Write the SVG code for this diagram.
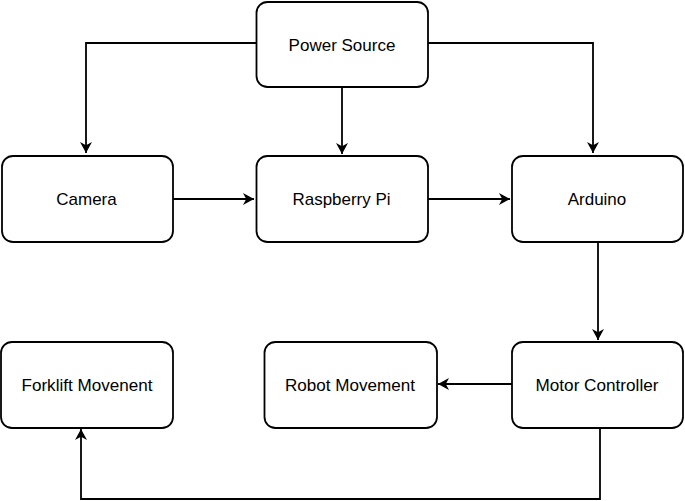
<svg xmlns="http://www.w3.org/2000/svg" width="685" height="501" viewBox="0 0 685 501">
<defs>
<style>
.box{fill:#fff;stroke:#000;stroke-width:1.8}
.lbl{font-family:"Liberation Sans",Arial,sans-serif;font-size:17px;fill:#000;text-anchor:middle}
.ln{fill:none;stroke:#000;stroke-width:1.8}
</style>
<marker id="ah" viewBox="0 0 12 13" refX="11" refY="6.5" markerWidth="12" markerHeight="13" markerUnits="userSpaceOnUse" orient="auto">
<path d="M0,0.5 L11,6.5 L0,12.5 L3.2,6.5 Z" fill="#000"/>
</marker>
</defs>
<rect width="685" height="501" fill="#fff"/>
<g id="connectors">
<path class="ln" d="M256,43 H86 V153" marker-end="url(#ah)"/>
<path class="ln" d="M342,87 V154" marker-end="url(#ah)"/>
<path class="ln" d="M428,43 H593 V153" marker-end="url(#ah)"/>
<path class="ln" d="M173,199 H254" marker-end="url(#ah)"/>
<path class="ln" d="M428,199 H510" marker-end="url(#ah)"/>
<path class="ln" d="M598,242 V340" marker-end="url(#ah)"/>
<path class="ln" d="M512,384 H438" marker-end="url(#ah)"/>
<path class="ln" d="M600,428 V499 H81 V429" marker-end="url(#ah)"/>
</g>
<g id="power-source"><rect class="box" x="256.5" y="2" width="171.5" height="85" rx="11"/><text class="lbl" x="342" y="50.5">Power Source</text></g>
<g id="camera"><rect class="box" x="2" y="156" width="171" height="86" rx="11"/><text class="lbl" x="86.5" y="205">Camera</text></g>
<g id="raspberry-pi"><rect class="box" x="256.5" y="156" width="171.5" height="86" rx="11"/><text class="lbl" x="341.5" y="205" textLength="98" lengthAdjust="spacingAndGlyphs">Raspberry Pi</text></g>
<g id="arduino"><rect class="box" x="512" y="156" width="171" height="86" rx="11"/><text class="lbl" x="597" y="205">Arduino</text></g>
<g id="forklift-movement"><rect class="box" x="1" y="342" width="172" height="86" rx="11"/><text class="lbl" x="87" y="391" textLength="131" lengthAdjust="spacingAndGlyphs">Forklift Movenent</text></g>
<g id="robot-movement"><rect class="box" x="264.5" y="342" width="172.5" height="86" rx="11"/><text class="lbl" x="350" y="391" textLength="130" lengthAdjust="spacingAndGlyphs">Robot Movement</text></g>
<g id="motor-controller"><rect class="box" x="512" y="342" width="171" height="86" rx="11"/><text class="lbl" x="597" y="391" textLength="123" lengthAdjust="spacingAndGlyphs">Motor Controller</text></g>
</svg>
